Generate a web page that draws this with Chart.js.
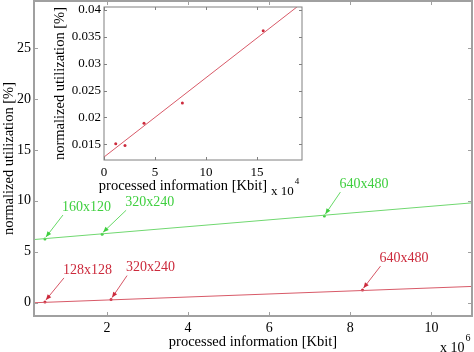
<!DOCTYPE html>
<html>
<head>
<meta charset="utf-8">
<script src="https://cdn.jsdelivr.net/npm/chart.js@4.4.1/dist/chart.umd.min.js"></script>
<style>
  body { margin: 0; background: #fff; }
  #wrap { position: relative; width: 474px; height: 352px; }
  #main { position: absolute; left: 0; top: 0; }
  #inset { position: absolute; left: 50px; top: 3px; }
</style>
</head>
<body>
<div id="wrap">
  <canvas id="main" width="474" height="352"></canvas>
  <canvas id="inset" width="260" height="197"></canvas>
</div>
<script>
// main plot, x in units of 10^6 Kbit
const fitX = [0.2, 11]
const greenFit = [6.2, 9.8]
const redFit = [0.0, 1.6]
const greenX = [0.47, 1.88, 7.36]
const greenY = [6.25, 6.72, 8.5]
const greenNames = ['160x120', '320x240', '640x480']
const redX = [0.47, 2.1, 8.3]
const redY = [0.08, 0.31, 1.24]
const redNames = ['128x128', '320x240', '640x480']
const mainXTicks = [2, 4, 6, 8, 10]
const mainYTicks = [0, 5, 10, 15, 20, 25]

// inset, x in units of 10^4 Kbit
const insetX = [1.15, 2.06, 3.92, 7.68, 15.6]
const insetY = [0.0151, 0.0148, 0.0189, 0.0227, 0.0361]
const insetFitX = [0, 18.9]
const insetFitY = [0.01265, 0.0405]
const insetXTicks = [0, 5, 10, 15]
const insetYTicks = [0.015, 0.02, 0.025, 0.03, 0.035, 0.04]

const SERIF = '"Liberation Serif", "DejaVu Serif", serif'
const GREEN = '#3fcf3f'
const GREEN_LINE = '#70d870'
const RED = '#cc2a3c'
const RED_LINE = '#d85a68'

function pts(xs, ys){
  return xs.map((x, i) => ({x: x, y: ys[i]}))
}

// boxed frame with ticks pointing inwards on all four sides
function framePlugin(color, width, tickLen){
  return {
    id: 'frame',
    afterDraw(chart){
      const ctx = chart.ctx
      const a = chart.chartArea
      const xs = chart.scales.x, ys = chart.scales.y
      ctx.save()
      ctx.strokeStyle = color
      ctx.lineWidth = width
      ctx.strokeRect(a.left, a.top, a.right - a.left, a.bottom - a.top)
      ctx.lineWidth = 1
      ctx.beginPath()
      xs.ticks.forEach(t => {
        const px = Math.round(xs.getPixelForValue(t.value)) + 0.5
        ctx.moveTo(px, a.bottom); ctx.lineTo(px, a.bottom - tickLen)
        ctx.moveTo(px, a.top); ctx.lineTo(px, a.top + tickLen)
      })
      ys.ticks.forEach(t => {
        const py = Math.round(ys.getPixelForValue(t.value)) + 0.5
        ctx.moveTo(a.left, py); ctx.lineTo(a.left + tickLen, py)
        ctx.moveTo(a.right, py); ctx.lineTo(a.right - tickLen, py)
      })
      ctx.stroke()
      ctx.restore()
    }
  }
}

function exponentPlugin(base, exp, dx, dy, size){
  return {
    id: 'exponent',
    afterDraw(chart){
      const ctx = chart.ctx
      const a = chart.chartArea
      ctx.save()
      ctx.fillStyle = '#000'
      ctx.textBaseline = 'middle'
      ctx.font = size + 'px ' + SERIF
      ctx.fillText(base, a.right + dx, a.bottom + dy)
      const w = ctx.measureText(base).width
      ctx.font = Math.round(size * 0.7) + 'px ' + SERIF
      ctx.fillText(exp, a.right + dx + w + 1, a.bottom + dy - 10)
      ctx.restore()
    }
  }
}

// labels with arrows pointing at the measured resolutions
const labelShift = {
  green: [17, 23, 15],
  red: [18, 15, 17]
}
const labelPlugin = {
  id: 'labels',
  afterDatasetsDraw(chart){
    const ctx = chart.ctx
    const xs = chart.scales.x, ys = chart.scales.y
    const groups = [
      {xv: greenX, yv: greenY, names: greenNames, color: GREEN, shift: labelShift.green},
      {xv: redX, yv: redY, names: redNames, color: RED, shift: labelShift.red}
    ]
    ctx.save()
    ctx.font = '14px ' + SERIF
    ctx.textBaseline = 'middle'
    groups.forEach(g => {
      g.names.forEach((name, i) => {
        const px = xs.getPixelForValue(g.xv[i])
        const py = ys.getPixelForValue(g.yv[i])
        const tx = px + g.shift[i], ty = py - 32
        ctx.fillStyle = g.color
        ctx.fillText(name, tx, ty)
        // arrow
        const x0 = tx + 1, y0 = ty + 8
        const x1 = px + 1, y1 = py - 2
        const ang = Math.atan2(y1 - y0, x1 - x0)
        ctx.strokeStyle = g.color
        ctx.lineWidth = 0.8
        ctx.beginPath()
        ctx.moveTo(x0, y0); ctx.lineTo(x1, y1)
        ctx.stroke()
        ctx.beginPath()
        ctx.moveTo(x1, y1)
        ctx.lineTo(x1 - 6 * Math.cos(ang - 0.4), y1 - 6 * Math.sin(ang - 0.4))
        ctx.lineTo(x1 - 6 * Math.cos(ang + 0.4), y1 - 6 * Math.sin(ang + 0.4))
        ctx.closePath()
        ctx.fill()
      })
    })
    ctx.restore()
  }
}

const insetTitlePlugin = {
  id: 'insetTitle',
  afterDraw(chart){
    const ctx = chart.ctx
    const a = chart.chartArea
    ctx.save()
    ctx.fillStyle = '#000'
    ctx.font = '14.5px ' + SERIF
    ctx.textAlign = 'center'
    ctx.textBaseline = 'middle'
    ctx.fillText('processed information [Kbit]', a.left + 79, a.bottom + 26)
    ctx.restore()
  }
}

function linAxis(min, max, ticks, size, fitSize, horizontal, title, pad){
  return {
    type: 'linear',
    min: min,
    max: max,
    grid: {display: false, drawTicks: false, tickLength: 0},
    border: {display: false},
    ticks: {
      color: '#000',
      font: {family: SERIF, size: size},
      padding: pad,
      autoSkip: false,
      maxRotation: 0
    },
    title: title,
    afterBuildTicks(scale){
      scale.ticks = ticks.map(v => ({value: v}))
    },
    afterFit(scale){
      if (horizontal) scale.height = fitSize
      else scale.width = fitSize
      scale.paddingTop = 0
      scale.paddingBottom = 0
      scale.paddingLeft = 0
      scale.paddingRight = 0
    }
  }
}

Chart.defaults.devicePixelRatio = 1
Chart.defaults.animation = false

const mainX = linAxis(0.2, 11, mainXTicks, 14, 36, true, {
  display: true, text: 'processed information [Kbit]', color: '#000',
  font: {family: SERIF, size: 14.5}, padding: {top: 0, bottom: 1}
}, 4)
const mainY = linAxis(-1.3, 29.6, mainYTicks, 14, 34, false, {
  display: true, text: 'normalized utilization [%]', color: '#000',
  font: {family: SERIF, size: 14.5}, padding: {top: 0, bottom: 0}
}, 3)

new Chart(document.getElementById('main'), {
  type: 'scatter',
  data: {
    datasets: [
      {data: pts(fitX, greenFit), showLine: true, borderColor: GREEN_LINE, borderWidth: 1, pointRadius: 0},
      {data: pts(fitX, redFit), showLine: true, borderColor: RED_LINE, borderWidth: 1, pointRadius: 0},
      {data: pts(greenX, greenY), pointRadius: 1.5, backgroundColor: GREEN, borderWidth: 0},
      {data: pts(redX, redY), pointRadius: 1.5, backgroundColor: RED, borderWidth: 0}
    ]
  },
  options: {
    responsive: false,
    layout: {autoPadding: false, padding: {left: 0, right: 2, top: 1, bottom: 0}},
    plugins: {legend: {display: false}, tooltip: {enabled: false}},
    scales: {x: mainX, y: mainY}
  },
  plugins: [framePlugin('#a0a0a0', 2, 4), labelPlugin, exponentPlugin('x 10', '6', -32, 32, 14)]
})

const inX = linAxis(0, 19.4, insetXTicks, 13, 40, true, {display: false}, 5)
const inY = linAxis(0.0121, 0.0405, insetYTicks, 13, 54, false, {
  display: true, text: 'normalized utilization [%]', color: '#000',
  font: {family: SERIF, size: 14.5}, padding: {top: 1, bottom: 0}
}, 3)
inY.ticks.callback = v => String(v)

new Chart(document.getElementById('inset'), {
  type: 'scatter',
  data: {
    datasets: [
      {data: pts(insetFitX, insetFitY), showLine: true, borderColor: RED_LINE, borderWidth: 1, pointRadius: 0},
      {data: pts(insetX, insetY), pointRadius: 1.5, backgroundColor: RED, borderWidth: 0}
    ]
  },
  options: {
    responsive: false,
    layout: {autoPadding: false, padding: {left: 0, right: 8, top: 4, bottom: 0}},
    plugins: {legend: {display: false}, tooltip: {enabled: false}},
    scales: {x: inX, y: inY}
  },
  plugins: [framePlugin('#808080', 1, 3), insetTitlePlugin, exponentPlugin('x 10', '4', -31, 32, 13)]
})
</script>
</body>
</html>
